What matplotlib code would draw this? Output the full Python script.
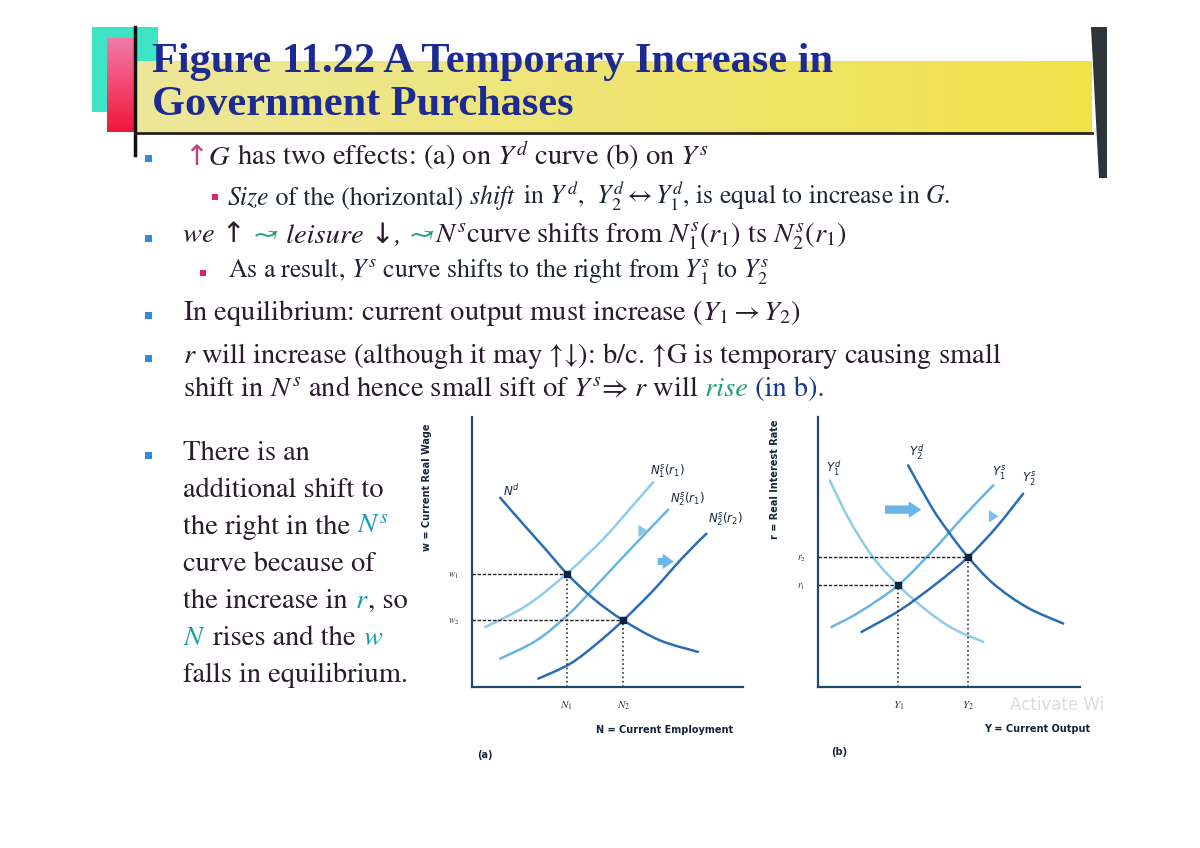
import numpy as np
import matplotlib
matplotlib.use('Agg')
import matplotlib.pyplot as plt
from matplotlib.colors import LinearSegmentedColormap
from matplotlib.offsetbox import TextArea, HPacker, AnnotationBbox
from matplotlib.patches import Rectangle, Polygon, PathPatch
from matplotlib.path import Path

plt.rcParams['mathtext.fontset'] = 'stix'

SERIF = ['STIXGeneral', 'DejaVu Sans']
INK = '#2a1c2c'
SUB = '#1c2636'
TEAL = '#1a9fb0'
GREEN = '#22a07a'
DARK = '#2a6db5'
MID = '#66b5e2'
LIGHT = '#8fcbea'

# ---- panel (a): labour market (axes 0..10) ----
nd_x = [1.04, 1.90, 2.70, 3.50, 4.48, 5.58, 6.93, 8.34]
nd_y = [7.01, 6.02, 5.12, 4.20, 3.27, 2.47, 1.73, 1.30]
ns1_x = [0.49, 2.02, 3.50, 4.85, 5.83, 6.69]
ns1_y = [2.22, 3.02, 4.20, 5.49, 6.60, 7.59]
ns2_x = [1.04, 2.39, 3.56, 4.60, 5.71, 7.24]
ns2_y = [1.05, 1.73, 2.69, 3.77, 4.96, 6.57]
ns3_x = [2.45, 3.62, 4.60, 5.58, 6.69, 7.79, 8.65]
ns3_y = [0.31, 0.86, 1.60, 2.47, 3.58, 4.81, 5.68]
eq_a_N = [3.50, 5.58]
eq_a_w = [4.20, 2.47]

# ---- panel (b): goods market ----
yd1_x = [0.45, 1.21, 2.10, 3.06, 4.14, 5.16, 6.31]
yd1_y = [7.65, 6.17, 4.81, 3.77, 2.84, 2.16, 1.67]
yd2_x = [3.44, 4.33, 5.03, 5.73, 6.69, 7.96, 9.36]
yd2_y = [8.21, 6.67, 5.68, 4.81, 3.83, 2.96, 2.35]
ys1_x = [0.51, 1.59, 3.06, 4.39, 5.54, 6.69]
ys1_y = [2.22, 2.78, 3.77, 5.06, 6.30, 7.47]
ys2_x = [1.66, 3.12, 4.52, 5.73, 6.82, 7.83]
ys2_y = [2.04, 2.84, 3.83, 4.81, 5.93, 7.16]
eq_b_Y = [3.06, 5.73]
eq_b_r = [3.77, 4.81]

title_lines = ['Figure 11.22 A Temporary Increase in', 'Government Purchases']

side_lines = [
    [('There is an', INK, 'normal')],
    [('additional shift to', INK, 'normal')],
    [('the right in the ', INK, 'normal'), ('$N^s$', TEAL, 'normal')],
    [('curve because of', INK, 'normal')],
    [('the increase in ', INK, 'normal'), ('$r$', TEAL, 'normal'), (', so', INK, 'normal')],
    [('$N$', TEAL, 'normal'), (' rises and the ', INK, 'normal'), ('$w$', TEAL, 'normal')],
    [('falls in equilibrium.', INK, 'normal')],
]


def rich(ax, x, y, parts, size):
    boxes = []
    carry = ''
    for t, c, st in parts:
        t = carry + t
        kept = t.rstrip(' ')
        carry = t[len(kept):]
        boxes.append(TextArea(kept, textprops=dict(color=c, fontsize=size, fontstyle=st,
                                                   family=SERIF)))
    pack = HPacker(children=boxes, align='baseline', pad=0, sep=0)
    ab = AnnotationBbox(pack, (x, y), xycoords='data', box_alignment=(0, 0.5),
                        frameon=False, pad=0)
    ax.add_artist(ab)


def bullet(ax, x, y, color, s=7):
    ax.add_patch(Rectangle((x - s / 2, y - s / 2), s, s, color=color, lw=0))


def smooth(xs, ys):
    # Catmull-Rom through the read points, drawn as cubic Bezier segments
    p = np.column_stack([xs, ys])
    n = len(p)
    verts = [p[0]]
    codes = [Path.MOVETO]
    for i in range(n - 1):
        p0 = p[i - 1] if i > 0 else p[i]
        p3 = p[i + 2] if i + 2 < n else p[i + 1]
        verts += [p[i] + (p[i + 1] - p0) / 6, p[i + 1] - (p3 - p[i]) / 6, p[i + 1]]
        codes += [Path.CURVE4] * 3
    return Path(verts, codes)


fig = plt.figure(figsize=(12, 8.48), dpi=100)
bg = fig.add_axes([0, 0, 1, 1])
bg.axis('off')

# slide header decorations
bg.add_patch(Rectangle((92, 27), 66, 85, color='#3fe3c6', lw=0))
yellow = LinearSegmentedColormap.from_list('y', ['#ece79a', '#f2e24a'])
bg.imshow(np.linspace(0, 1, 200)[None, :], cmap=yellow, extent=(135, 1092, 133, 61),
          aspect='auto', zorder=1)
reds = LinearSegmentedColormap.from_list('r', ['#f27aa8', '#f0173a'])
bg.imshow(np.linspace(0, 1, 100)[:, None], cmap=reds, extent=(107, 134, 132, 38),
          aspect='auto', zorder=2)
bg.plot([135, 135], [27, 155], color='#111111', lw=2.5, zorder=3)
bg.plot([135, 1092], [133, 133], color='#222222', lw=2, zorder=3)
bg.add_patch(Polygon([(1091, 27), (1107, 27), (1107, 178), (1099, 178)],
                     closed=True, color='#2d3539', lw=0, zorder=3))
bg.set_xlim(0, 1200)
bg.set_ylim(848, 0)

for i, t in enumerate(title_lines):
    bg.text(152, 62 + 43 * i, t, fontsize=30.5, fontweight='bold', color='#1c2a92',
            family=['Liberation Serif', 'DejaVu Serif'], va='center', zorder=4)

# bullet list
BLUE_B = '#2b8be6'
RED_B = '#e2245a'
MAIN = 20.5
SMALL = 18.5
bullet(bg, 148, 158, BLUE_B)
rich(bg, 184, 156, [('↑', '#c2407a', 'italic'), ('$G$', INK, 'normal'),
                    (' has two effects: (a) on $Y^d$ curve (b) on $Y^s$', INK, 'normal')], MAIN)
bullet(bg, 215, 197, RED_B, 6)
rich(bg, 228, 196, [('Size', SUB, 'italic'), (' of the (horizontal) ', SUB, 'normal'),
                    ('$shift$', SUB, 'normal'),
                    (r' in $Y^d$,  $Y_2^d \leftrightarrow Y_1^d$, is equal to increase in $G$.',
                     SUB, 'normal')], SMALL)
bullet(bg, 148, 238, BLUE_B)
rich(bg, 183, 236, [('we ↑ ', INK, 'italic'), ('↝', GREEN, 'normal'),
                    (' leisure ↓, ', INK, 'italic'), ('↝', GREEN, 'normal'),
                    ('$N^s$curve shifts from $N_1^s(r_1)$ ts $N_2^s(r_1)$', INK, 'normal')], MAIN)
bullet(bg, 203, 273, RED_B, 6)
rich(bg, 228, 272, [('As a result, $Y^s$ curve shifts to the right from $Y_1^s$ to $Y_2^s$',
                     SUB, 'normal')], SMALL)
bullet(bg, 148, 315, BLUE_B)
rich(bg, 183, 313, [(r'In equilibrium: current output must increase ($Y_1 \rightarrow Y_2$)',
                     INK, 'normal')], MAIN)
bullet(bg, 148, 358, BLUE_B)
rich(bg, 183, 356, [('$r$ will increase (although it may ↑↓): b/c. ↑G is temporary causing small',
                     INK, 'normal')], MAIN)
rich(bg, 183, 389, [('shift in $N^s$ and hence small sift of $Y^s$⇒ $r$ will ', INK, 'normal'),
                    ('rise', GREEN, 'italic'), (' (in b).', '#1a3a8a', 'normal')], MAIN)

bullet(bg, 148, 455, BLUE_B)
for i, parts in enumerate(side_lines):
    rich(bg, 183, 453 + 37 * i, parts, MAIN)

bg.text(1010, 705, 'Activate Wi', fontsize=12, color='#dcdcdc', va='center', family='DejaVu Sans')


def panel(rect, curves, eq_x, eq_y, xt, yt, xlabel, ylabel, tag, xl_pos, yl_pos, tag_pos):
    ax = fig.add_axes(rect)
    ax.set_xlim(0, 10)
    ax.set_ylim(0, 10)
    for s in ['top', 'right']:
        ax.spines[s].set_visible(False)
    for s in ['left', 'bottom']:
        ax.spines[s].set_color('#1e4a6a')
        ax.spines[s].set_linewidth(1.6)
    ax.set_facecolor('none')
    for xs, ys, c in curves:
        ax.add_patch(PathPatch(smooth(xs, ys), fill=False, edgecolor=c, lw=1.8,
                               capstyle='round'))
    for x, y in zip(eq_x, eq_y):
        ax.plot([0, x], [y, y], color='#222222', lw=1, dashes=(2.5, 1.2))
        ax.plot([x, x], [0, y], color='#333333', lw=1.2, ls=':')
    ax.plot(eq_x, eq_y, 's', color='#0c2340', ms=4.5)
    ax.set_xticks(eq_x)
    ax.set_xticklabels(xt, fontsize=8, color='#333333')
    ax.set_yticks(eq_y)
    ax.set_yticklabels(yt, fontsize=7, color='#333333')
    ax.tick_params(length=0, pad=9)
    kw = dict(transform=ax.transAxes, fontsize=7, fontweight='bold', color='#16263a',
              family='DejaVu Sans')
    ax.text(*xl_pos, xlabel, ha='right', va='center', **kw)
    ax.text(*yl_pos, ylabel, ha='center', va='center', rotation=90, **kw)
    ax.text(*tag_pos, tag, ha='left', va='center', **kw)
    return ax


lab = dict(fontsize=8.5, color='#16263a', math_fontfamily='dejavusans', ha='center', va='center')

axa = panel([472 / 1200, (848 - 687) / 848, 271 / 1200, 270 / 848],
            [(ns1_x, ns1_y, LIGHT), (ns2_x, ns2_y, MID), (nd_x, nd_y, DARK), (ns3_x, ns3_y, DARK)],
            eq_a_N, eq_a_w, ['$N_1$', '$N_2$'], ['$w_1$', '$w_2$'],
            'N = Current Employment', 'w = Current Real Wage', '(a)',
            (0.963, -0.16), (-0.165, 0.74), (0.02, -0.25))
axa.text(1.45, 7.25, '$N^d$', **lab)
axa.text(7.2, 8.0, '$N_1^s(r_1)$', **lab)
axa.text(7.95, 6.95, '$N_2^s(r_1)$', **lab)
axa.text(9.35, 6.2, '$N_2^s(r_2)$', **lab)
axa.annotate('', xy=(6.6, 5.78), xytext=(6.1, 5.78),
             arrowprops=dict(arrowstyle='simple,head_width=0.9,head_length=0.7,tail_width=0.01',
                             color='#8cc8ee', lw=0))
axa.annotate('', xy=(7.55, 4.65), xytext=(6.75, 4.65),
             arrowprops=dict(arrowstyle='simple,head_width=1.1,head_length=0.8,tail_width=0.5',
                             color='#6ab6ea', lw=0))

axb = panel([818 / 1200, (848 - 687) / 848, 262 / 1200, 270 / 848],
            [(yd1_x, yd1_y, LIGHT), (ys1_x, ys1_y, MID), (yd2_x, yd2_y, DARK), (ys2_x, ys2_y, DARK)],
            eq_b_Y, eq_b_r, ['$Y_1$', '$Y_2$'], ['$r_1$', '$r_2$'],
            'Y = Current Output', 'r = Real Interest Rate', '(b)',
            (1.04, -0.156), (-0.164, 0.77), (0.05, -0.24))
axb.text(0.6, 8.1, '$Y_1^d$', **lab)
axb.text(3.75, 8.7, '$Y_2^d$', **lab)
axb.text(6.9, 7.9, '$Y_1^s$', **lab)
axb.text(8.05, 7.7, '$Y_2^s$', **lab)
axb.annotate('', xy=(4.05, 6.57), xytext=(2.45, 6.57),
             arrowprops=dict(arrowstyle='simple,head_width=1.2,head_length=0.9,tail_width=0.6',
                             color='#6ab6ea', lw=0))
axb.annotate('', xy=(7.0, 6.32), xytext=(6.5, 6.32),
             arrowprops=dict(arrowstyle='simple,head_width=0.9,head_length=0.7,tail_width=0.01',
                             color='#7cc0ee', lw=0))

fig.savefig('out.png', dpi=100)
